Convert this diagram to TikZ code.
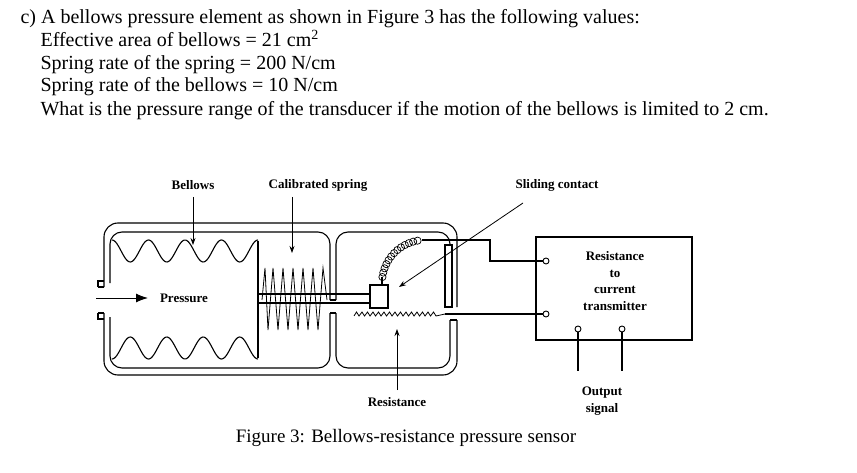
\documentclass[tikz,border=0pt]{standalone}
\usepackage{fontspec}
\setmainfont{Liberation Serif}
\usetikzlibrary{decorations.pathmorphing,arrows.meta}
\begin{document}
\begin{tikzpicture}[x=1pt,y=-1pt,line width=1.1pt,
 hdr/.style={anchor=base west,font=\fontsize{20}{20}\selectfont,inner sep=0},
 lab/.style={font=\bfseries\fontsize{13}{16.5}\selectfont,inner sep=0.5pt,align=center},
 pt/.style={-{Stealth[length=7pt,width=5pt]},line width=0.8pt},
 term/.style={circle,draw,fill=white,inner sep=0,minimum size=6pt,line width=0.9pt}]
\useasboundingbox (0,0) rectangle (857,473);
\node[hdr] (h1) at (20,24) {c) A bellows pressure element as shown in Figure 3 has the following values:};
\node[hdr] (h2) at (40,47) {Effective area of bellows = 21 cm\textsuperscript{2}};
\node[hdr] (h3) at (40,70) {Spring rate of the spring = 200 N/cm};
\node[hdr] (h4) at (40,92) {Spring rate of the bellows = 10 N/cm};
\node[hdr] (h5) at (40,116) {What is the pressure range of the transducer if the motion of the bellows is limited to 2 cm.};
% housing
\draw[rounded corners=14pt] (104,287) -- (104,223) -- (457,223) -- (457,307);
\draw[rounded corners=14pt] (104,313) -- (104,375) -- (457,375) -- (457,320);
\draw (98,287) -- (104,287) (98,313) -- (104,313) (98,287)--(98,281)--(104,281) (98,313)--(98,319)--(104,319);
% chamber 1
\draw[rounded corners=12pt] (110,283) -- (110,232) -- (330,232) -- (330,300);
\draw[rounded corners=12pt] (110,317) -- (110,368) -- (330,368) -- (330,313);
% chamber 2
\draw[rounded corners=12pt] (336,300) -- (336,232) -- (450,232) -- (450,244);
\draw[rounded corners=12pt] (336,313) -- (336,368) -- (450,368) -- (450,320);
\draw (450,320) -- (457,320);
\draw (445,245) rectangle (452,307);
% bellows
\draw[domain=112:258,samples=120,smooth] plot (\x,{251-11*cos(9.863*(\x-112))});
\draw[domain=112:258,samples=120,smooth] plot (\x,{348+11*cos(9.863*(\x-112))});
\draw (258,241) -- (258,358);
% rod
\draw (258,294) -- (371,294) (258,303) -- (371,303);
\draw (330,300) -- (336,300) (330,313) -- (336,313);
% spring
\draw[line width=0.8pt] (262,300) -- (265,268) \foreach \i in {0,...,5}{ -- (268+10*\i,330) -- (273+10*\i,268)} -- (327,300);
% slider
\node[draw,minimum width=18pt,minimum height=23pt,inner sep=0] (blk) at (379,296.5) {};
% coil
\foreach \a in {172,166,...,96} \draw[line width=0.7pt] ({425+43*cos(\a)},{283-43*sin(\a)}) circle (3.6);
\draw (382,277) -- (382,285);
% resistor
\draw[line width=0.8pt] (354,316) \foreach \i in {0,...,14}{ -- (356.5+5.5*\i,312) -- (359+5.5*\i,316)} -- (445,314) coordinate (r1);
% wiring
\node[term] (t1) at (546,261) {};
\node[term] (t2) at (546,314) {};
\draw (422,240) -- (490,240) -- (490,261) -- (t1);
\draw (r1) -- (t2);
% box
\draw (536,237) rectangle (692,340);
\node[lab] (bx) at (615,281) {Resistance\\to\\current\\transmitter};
\node[term] (t3) at (578,329) {};
\node[term] (t4) at (622,329) {};
\coordinate (o1) at (578,371); \coordinate (o2) at (622,371);
\draw (t3) -- (o1) (t4) -- (o2);
\node[lab] (out) at (602,401) {Output\\signal};
% labels and pointers
\node[lab] (lb) at (193,185) {Bellows};
\node[lab] (ls) at (318,185) {Calibrated spring};
\node[lab] (lc) at (557,185) {Sliding contact};
\node[lab] (lr) at (397,402) {Resistance};
\node[lab] (lp) at (184,298) {Pressure};
\coordinate (bp) at (193,245); \coordinate (sp) at (292,253);
\coordinate (cp) at (399,287); \coordinate (cs) at (523,203);
\coordinate (rp) at (397,329); \coordinate (rs) at (397,390);
\coordinate (ps) at (96,298); \coordinate (pe) at (148,298);
\draw[pt] (193,197) -- (bp);
\draw[pt] (292,197) -- (sp);
\draw[pt] (cs) -- (cp);
\draw[pt] (rs) -- (rp);
\draw[-{Latex[length=12pt,width=9pt]},line width=1pt] (ps) -- (pe);
\node[font=\fontsize{19}{19}\selectfont] (cap) at (406,438) {Figure 3: Bellows-resistance pressure sensor};
\end{tikzpicture}
\end{document}
